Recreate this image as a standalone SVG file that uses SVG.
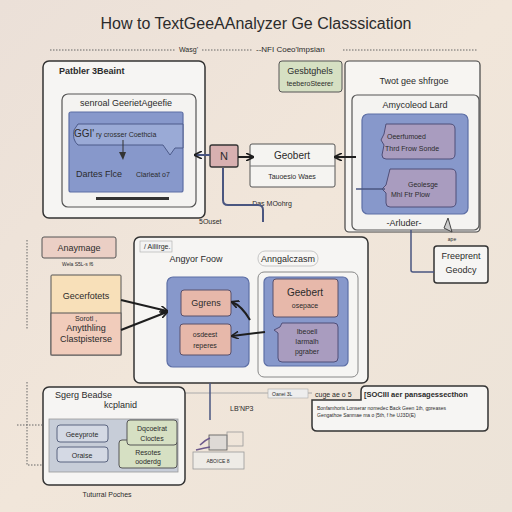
<svg xmlns="http://www.w3.org/2000/svg" width="512" height="512" viewBox="0 0 512 512">
<defs>
<style>
text{font-family:"Liberation Sans",Arial,sans-serif;fill:#2b2b2b}
.box{fill:#f6f5f3;stroke:#333;stroke-width:1.5}
.inner{fill:#f4f3f1;stroke:#555;stroke-width:1.2}
.blue{fill:#8798cb;stroke:#5d6fa6;stroke-width:1.2}
.pink{fill:#e7b8aa;stroke:#59506a;stroke-width:1}
.purple{fill:#a99cbf;stroke:#4f4e78;stroke-width:1}
.green{fill:#d6e0c3;stroke:#555;stroke-width:1}
.conn{fill:none;stroke:#1e1e1e;stroke-width:2}
.connb{fill:none;stroke:#4a5680;stroke-width:2}
.dot{fill:none;stroke:#666;stroke-width:1;stroke-dasharray:1.5 1.5}
.t{font-size:9px}
.s{font-size:7px}
</style>
<marker id="ah" markerWidth="8" markerHeight="8" refX="7" refY="4" orient="auto" markerUnits="userSpaceOnUse">
<path d="M0,0 L8,4 L0,8" fill="none" stroke="#1e1e1e" stroke-width="1.6"/>
</marker>
<linearGradient id="bg" x1="0" y1="0" x2="1" y2="1">
<stop offset="0" stop-color="#ebe0d8"/>
<stop offset="0.5" stop-color="#f1e6da"/>
<stop offset="1" stop-color="#ece3d8"/>
</linearGradient>
</defs>
<rect width="512" height="512" fill="url(#bg)"/>
<text x="256" y="29" text-anchor="middle" font-size="16" font-weight="500">How  to TextGeeAAnalyzer  Ge Classsication</text>
<line x1="50" y1="50" x2="176" y2="50" class="dot"/>
<text x="179" y="52" class="s">Wasg'</text>
<line x1="202" y1="50" x2="253" y2="50" class="dot"/>
<text x="256" y="52" font-size="8">--NFI Coeo'lmpsian</text>
<line x1="343" y1="50" x2="477" y2="50" class="dot"/>

<g id="node-patbler">
<rect x="43" y="61" width="162" height="157" rx="6" class="box"/>
<text x="59" y="74" class="t" font-weight="bold">Patbler 3Beaint</text>
<rect x="62" y="94" width="134" height="113" rx="6" class="inner"/>
<text x="126" y="106" text-anchor="middle" class="t">senroal GeerietAgeefie</text>
<rect x="69" y="112" width="114" height="80" rx="2" class="blue"/>
<path d="M78,124 L183,124 L183,148 L175,148 L170,155 L163,145 L78,145 Q72,140 74,130 Z" fill="#9aaad6" stroke="#4c5a8a" stroke-width="1"/>
<text x="74" y="137" font-size="10">GGI'</text>
<text x="96" y="137" class="s">ry crosser Coethcia</text>
<line x1="123" y1="140" x2="123" y2="155" stroke="#333" stroke-width="1"/>
<path d="M119,152 L123,160 L126,152 Z" fill="#333"/>
<text x="76" y="177" class="t">Dartes Flce</text>
<text x="136" y="177" class="s">Clarleat o7</text>
<rect x="96" y="197" width="73" height="3" fill="#333"/>
</g>

<g id="node-n">
<rect x="210" y="145" width="28" height="22" rx="2" fill="#d8b0b0" stroke="#333" stroke-width="1.3"/>
<text x="224" y="160" text-anchor="middle" font-size="11">N</text>
</g>

<g id="node-green">
<rect x="279" y="61" width="63" height="31" rx="3" class="green"/>
<text x="310" y="74" text-anchor="middle" class="t">Gesbtghels</text>
<text x="310" y="86" text-anchor="middle" class="s">teeberoSteerer</text>
</g>

<g id="node-geobert">
<rect x="250" y="144" width="85" height="43" rx="2" fill="#f5f4f1" stroke="#555" stroke-width="1"/>
<line x1="250" y1="166" x2="335" y2="166" stroke="#777" stroke-width="1"/>
<text x="292" y="159" text-anchor="middle" font-size="10">Geobert</text>
<text x="292" y="179" text-anchor="middle" class="s">Tauoesio Waes</text>
</g>
<text x="272" y="206" text-anchor="middle" class="s">Das MOohrg</text>

<g id="node-right">
<rect x="345" y="61" width="135" height="171" rx="4" fill="#f7f5f2" stroke="#444" stroke-width="1.2"/>
<text x="414" y="84" text-anchor="middle" class="t">Twot gee shfrgoe</text>
<rect x="352" y="95" width="127" height="135" rx="5" class="inner"/>
<text x="415" y="108" text-anchor="middle" class="t">Amycoleod Lard</text>
<rect x="362" y="114" width="106" height="100" rx="6" class="blue"/>
<path d="M386,124 L450,124 Q455,124 455,129 L455,154 Q455,159 450,159 L386,159 Q382,159 382,155 L384,145 L381,140 L384,134 Z" class="purple"/>
<text x="387" y="139" class="s">Oeerfumoed</text>
<text x="385" y="151" class="s">Thrd  Frow Sonde</text>
<path d="M390,169 L451,169 Q456,169 456,174 L456,202 Q456,207 451,207 L390,207 Q386,207 386,203 L386,193 L382,189 L386,185 Z" class="purple"/>
<line x1="356" y1="189" x2="385" y2="189" stroke="#4a5680" stroke-width="1.5"/>
<text x="408" y="187" class="s">Geolesge</text>
<text x="391" y="197" class="s">Mhl Ftr Plow</text>
<text x="404" y="226" text-anchor="middle" class="t">-Arluder-</text>
<path d="M448,218 L452,232 L444,228 Z" fill="#ccc" stroke="#444" stroke-width="1"/>
<text x="452" y="241" text-anchor="middle" font-size="5">ape</text>
</g>

<g id="node-freeprent">
<rect x="434" y="246" width="54" height="37" rx="3" class="box"/>
<text x="461" y="259" text-anchor="middle" class="t">Freeprent</text>
<text x="461" y="273" text-anchor="middle" class="t">Geodcy</text>
</g>

<g id="node-anaymage">
<rect x="42" y="237" width="74" height="21" rx="2" fill="#ebcfc5" stroke="#555" stroke-width="1"/>
<text x="79" y="251" text-anchor="middle" class="t">Anaymage</text>
<text x="62" y="266" font-size="5">Wela  S5L-s f6</text>
</g>

<g id="node-gecerfotets">
<rect x="51" y="275" width="70" height="80" rx="1" fill="#f8e0b9" stroke="#555" stroke-width="1"/>
<rect x="51" y="313" width="70" height="42" fill="#f1ccbb" stroke="#555" stroke-width="1"/>
<text x="86" y="299" text-anchor="middle" class="t">Gecerfotets</text>
<text x="86" y="321" text-anchor="middle" class="s">Sorotl ,</text>
<text x="86" y="331" text-anchor="middle" class="t">Anytthling</text>
<text x="86" y="342" text-anchor="middle" class="t">Clastpisterse</text>
</g>

<g id="node-middle">
<rect x="134" y="237" width="234" height="146" rx="6" class="box"/>
<rect x="140" y="241" width="32" height="11" fill="#f3f3f3" stroke="#aaa" stroke-width="0.6"/>
<text x="144" y="249" class="s">/ Ailiirge.</text>
<text x="196" y="262" text-anchor="middle" class="t">Angyor Foow</text>
<rect x="258" y="251" width="60" height="15" rx="7" fill="#f7f6f4" stroke="#bbb" stroke-width="0.8"/>
<text x="288" y="262" text-anchor="middle" class="t">Anngalczasm</text>
<rect x="167" y="277" width="82" height="90" rx="6" class="blue"/>
<rect x="181" y="290" width="50" height="26" rx="3" class="pink"/>
<text x="206" y="306" text-anchor="middle" class="t">Ggrens</text>
<rect x="180" y="324" width="51" height="31" rx="3" class="pink"/>
<text x="205" y="337" text-anchor="middle" class="s">osdeest</text>
<text x="205" y="348" text-anchor="middle" class="s">reperes</text>
<rect x="258" y="272" width="100" height="105" rx="6" fill="#f6f5f3" stroke="#888" stroke-width="1"/>
<rect x="264" y="277" width="84" height="89" rx="5" class="blue"/>
<rect x="273" y="279" width="65" height="38" rx="3" class="pink"/>
<text x="305" y="296" text-anchor="middle" font-size="10">Geebert</text>
<text x="305" y="308" text-anchor="middle" class="s">osepace</text>
<path d="M282,323 L334,323 Q338,323 338,327 L338,358 Q338,362 334,362 L282,362 Q278,362 278,358 L278,333 L274,330 L280,327 Z" class="purple"/>
<text x="307" y="334" text-anchor="middle" class="s">Ibeoell</text>
<text x="307" y="344" text-anchor="middle" class="s">Iarmalh</text>
<text x="307" y="354" text-anchor="middle" class="s">pgraber</text>
<line x1="134" y1="393" x2="312" y2="393" stroke="#aaa" stroke-width="1"/>
<rect x="268" y="389" width="40" height="9" fill="#eee" stroke="#aaa" stroke-width="0.6"/>
<text x="272" y="396" font-size="5">Oanei 3L</text>
</g>

<g id="node-note">
<path d="M366,386 L483,386 Q488,386 488,391 L488,426 Q488,431 483,431 L317,431 Q312,431 312,426 L312,400 L361,400 L361,391 Q361,386 366,386 Z" class="box"/>
<text x="315" y="397" font-size="7">cuge  ae o 5</text>
<text x="364" y="397" font-size="7.5" font-weight="bold">[SOCIII aer pansagessecthon</text>
<text x="317" y="410" font-size="5">Bonfamhoris Lonserar nomedec Back Geen 1th, gpreases</text>
<text x="317" y="417" font-size="5">Gengathoe Sanmae ma o [5th, f he UJ3D(E)</text>
</g>

<g id="node-widget">
<rect x="193" y="452" width="51" height="17" fill="#eeebe6" stroke="#999" stroke-width="0.8"/>
<text x="218" y="463" text-anchor="middle" font-size="5">ABOICE 8</text>
<rect x="209" y="435" width="18" height="15" fill="#dedad6" stroke="#555" stroke-width="0.8"/>
<rect x="227" y="432" width="16" height="14" fill="none" stroke="#999" stroke-width="0.8"/>
<path d="M200,445 Q205,440 210,438 M196,450 Q204,448 210,447" stroke="#6d5a8c" stroke-width="1.5" fill="none"/>
<text x="230" y="411" class="s">LB'NP3</text>
</g>

<g id="node-bottomleft">
<rect x="43" y="387" width="142" height="98" rx="6" class="box"/>
<text x="55" y="398" class="t">Sgerg Beadse</text>
<text x="104" y="408" class="t">kcplanid</text>
<rect x="49" y="419" width="129" height="53" fill="#c7cdd8" stroke="#999" stroke-width="0.8"/>
<rect x="57" y="425" width="51" height="17" rx="3" fill="#d4d9e4" stroke="#5a6480" stroke-width="1"/>
<text x="82" y="437" text-anchor="middle" class="s">Geeyprote</text>
<rect x="57" y="447" width="51" height="15" rx="3" fill="#d4d9e4" stroke="#5a6480" stroke-width="1"/>
<text x="82" y="458" text-anchor="middle" class="s">Oraise</text>
<rect x="119" y="440" width="58" height="28" rx="3" class="green"/>
<rect x="127" y="420" width="50" height="25" rx="3" class="green"/>
<text x="152" y="431" text-anchor="middle" class="s">Dqcoelrat</text>
<text x="152" y="441" text-anchor="middle" class="s">Cloctes</text>
<text x="148" y="455" text-anchor="middle" class="s">Resotes</text>
<text x="148" y="464" text-anchor="middle" class="s">ooderdg</text>
<text x="107" y="497" text-anchor="middle" class="s">Tuturral Poches</text>
</g>

<g id="connectors">
<line x1="210" y1="155" x2="195" y2="155" class="connb" marker-end="url(#ah)"/>
<line x1="238" y1="157" x2="253" y2="157" class="conn" marker-end="url(#ah)"/>
<line x1="356" y1="157" x2="335" y2="157" class="conn" marker-end="url(#ah)"/>
<path d="M223,168 L223,200 Q223,205 228,205 L258,205 Q263,205 263,210 L263,222" class="connb"/>
<text x="199" y="224" class="s">5Ouset</text>
<path d="M411,230 L411,270 Q411,272 413,272 L434,272" fill="none" stroke="#4a5680" stroke-width="1.5"/>
<line x1="121" y1="300" x2="167" y2="311" class="conn" marker-end="url(#ah)"/>
<line x1="121" y1="330" x2="167" y2="312" class="conn" marker-end="url(#ah)"/>
<path d="M250,320 Q242,306 232,302" class="conn" marker-end="url(#ah)"/>
<line x1="265" y1="332" x2="232" y2="336" class="conn" marker-end="url(#ah)"/>
<line x1="210" y1="383" x2="210" y2="420" stroke="#4a5680" stroke-width="1.5"/>
<path d="M27,240 L27,330" class="dot"/>
<path d="M27,382 L27,465 L43,465" class="dot"/>
<path d="M17,425 L43,425" class="dot"/>
</g>
</svg>
